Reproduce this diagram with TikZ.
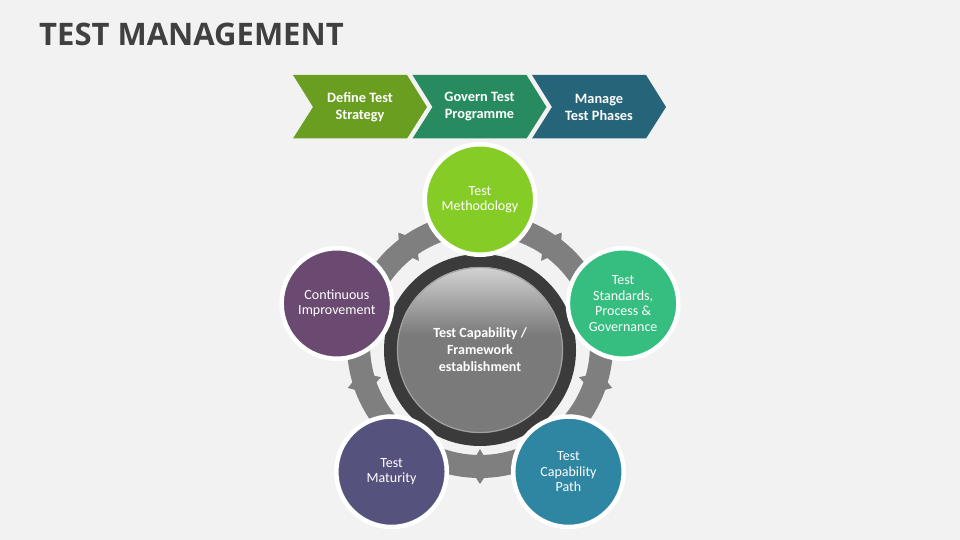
\documentclass[tikz,border=0pt]{standalone}
\usepackage{fontspec}
\setmainfont{Carlito}
\newfontfamily\titlefont{Open Sans}
\usetikzlibrary{calc}
\definecolor{bg}{HTML}{F2F2F2}
\definecolor{titlegray}{HTML}{404040}
\definecolor{chevA}{HTML}{6A9E21}
\definecolor{chevB}{HTML}{278B5F}
\definecolor{chevC}{HTML}{256479}
\definecolor{bandgray}{HTML}{7F7F7F}
\definecolor{ringdark}{HTML}{3B3B3B}
\definecolor{spheremid}{HTML}{7A7A7A}
\definecolor{spheretop}{HTML}{D4D4D4}
\definecolor{sphererim}{HTML}{A0A0A0}
\definecolor{colTM}{HTML}{86CC27}
\definecolor{colTS}{HTML}{35BE80}
\definecolor{colCP}{HTML}{2E86A3}
\definecolor{colMT}{HTML}{55527E}
\definecolor{colCI}{HTML}{6B4A72}
\tikzset{
  chevtext/.style={text=white, align=center, inner sep=0pt,
    font=\bfseries\fontsize{14.3}{17}\selectfont},
  sat/.style={circle, draw=white, line width=4.5pt, minimum size=110.5pt,
    inner sep=0pt, text=white, align=center,
    font=\fontsize{14}{15.5}\selectfont},
  coretext/.style={text=white, align=center, inner sep=0pt,
    font=\bfseries\fontsize{14}{17}\selectfont},
}
\begin{document}
\begin{tikzpicture}[x=1pt,y=-1pt]
\useasboundingbox (0,0) rectangle (960,540);
\fill[bg] (0,0) rectangle (960,540);

% title
\node[anchor=base west, text=titlegray, inner sep=0pt,
  font=\titlefont\bfseries\fontsize{31}{36}\selectfont] (title) at (39,45.7) {TEST MANAGEMENT};

% chevrons
\foreach \i/\c in {0/chevA,1/chevB,2/chevC}{
  \fill[\c, shift={(119.5*\i,0)}] (293,75) -- (407,75) -- (427,107) -- (407,138.5)
    -- (293,138.5) -- (313,107) -- cycle;
}
\node[chevtext] (c1) at (360,107) {Define Test\\Strategy};
\node[chevtext] (c2) at (479.5,107) {Govern Test\\Programme};
\node[chevtext] (c3) at (599,107) {Manage\\Test Phases};

% gray circular band
\coordinate (bc) at (480,345);
\fill[bandgray, even odd rule] (bc) circle[radius=133] (bc) circle[radius=110];
\foreach \a in {18,90,162,234,306}{
  \fill[bandgray] ($(bc)+(\a-2:132)$) -- ($(bc)+(\a:139)$) -- ($(bc)+(\a+2:132)$) -- cycle;
  \fill[bandgray] ($(bc)+(\a-2:111)$) -- ($(bc)+(\a:104)$) -- ($(bc)+(\a+2:111)$) -- cycle;
}

% core
\coordinate (cc) at (480,350);
\fill[ringdark] (cc) circle[radius=96];
\fill[spheremid] (cc) circle[radius=83];
\begin{scope}
  \clip (cc) circle[radius=83];
  \shade[top color=spheretop, bottom color=spheremid] (390,266) rectangle (570,335);
\end{scope}
\draw[line width=1.2pt, sphererim] (cc) circle[radius=82.5];
\node[coretext] (core) at (cc) {Test Capability /\\Framework\\establishment};

% satellites
\node[sat, fill=colTM] (tm) at ($(cc)+(270:150.5)$) {Test\\Methodology};
\node[sat, fill=colTS] (ts) at ($(cc)+(342:150.5)$) {Test\\Standards,\\Process \&\\Governance};
\node[sat, fill=colCP] (cp) at ($(cc)+(54:150.5)$) {Test\\Capability\\Path};
\node[sat, fill=colMT] (mt) at ($(cc)+(126:150.5)$) {Test\\Maturity};
\node[sat, fill=colCI] (ci) at ($(cc)+(198:150.5)$) {Continuous\\Improvement};
\end{tikzpicture}
\end{document}
